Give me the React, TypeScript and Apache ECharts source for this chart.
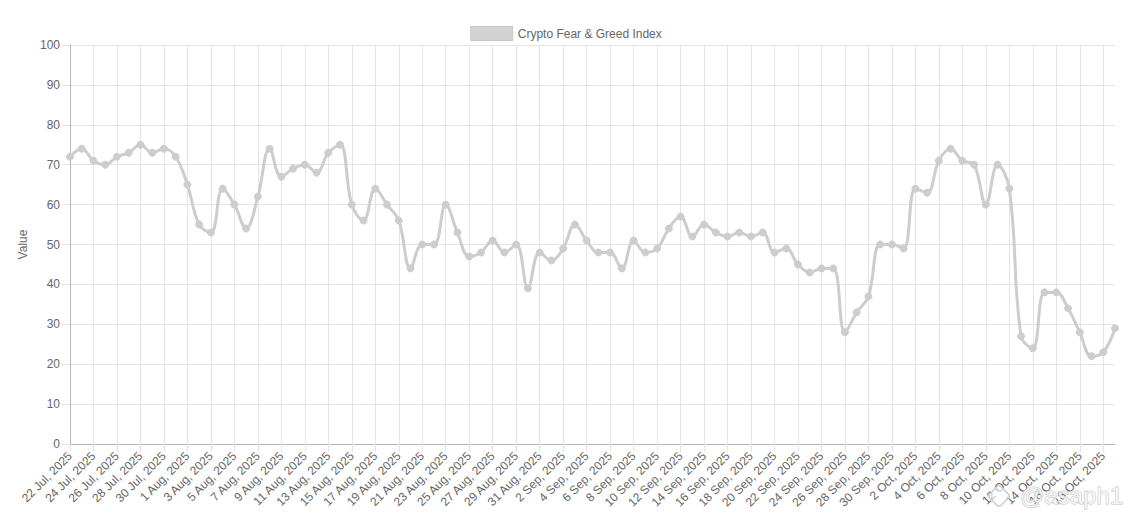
import React, { useEffect, useRef } from "react";
import * as echarts from "echarts";

const START_DATE = "2025-07-22";
const DAY_COUNT = 90;
const MONTHS = ["Jan", "Feb", "Mar", "Apr", "May", "Jun", "Jul", "Aug", "Sep", "Oct", "Nov", "Dec"];

function buildDates(start: string, n: number): string[] {
  const out: string[] = [];
  const d0 = new Date(start + "T00:00:00Z");
  for (let i = 0; i < n; i++) {
    const d = new Date(d0.getTime() + i * 86400000);
    out.push(`${d.getUTCDate()} ${MONTHS[d.getUTCMonth()]}, ${d.getUTCFullYear()}`);
  }
  return out;
}

const categories = buildDates(START_DATE, DAY_COUNT);

const fearGreedValues = [
  72, 74, 71, 70, 72, 73, 75, 73, 74, 72,
  65, 55, 53, 64, 60, 54, 62, 74, 67, 69,
  70, 68, 73, 75, 60, 56, 64, 60, 56, 44,
  50, 50, 60, 53, 47, 48, 51, 48, 50, 39,
  48, 46, 49, 55, 51, 48, 48, 44, 51, 48,
  49, 54, 57, 52, 55, 53, 52, 53, 52, 53,
  48, 49, 45, 43, 44, 44, 28, 33, 37, 50,
  50, 49, 64, 63, 71, 74, 71, 70, 60, 70,
  64, 27, 24, 38, 38, 34, 28, 22, 23, 29,
];

const seriesName = "Crypto Fear & Greed Index";
const yAxisName = "Value";
const watermarkText = "@asaph1";

const FONT = "'Liberation Sans', Arial, Helvetica, sans-serif";
const GRID_COLOR = "#e4e4e4";
const TEXT_COLOR = "#666666";

export default function App() {
  const ref = useRef<HTMLDivElement>(null);

  useEffect(() => {
    if (!ref.current) return;
    const chart = echarts.init(ref.current, null, { renderer: "svg" });
    chart.setOption({
      animation: false,
      backgroundColor: "#ffffff",
      textStyle: { fontFamily: FONT },
      legend: {
        top: 21,
        left: "center",
        itemWidth: 42,
        itemHeight: 14,
        itemGap: 8,
        icon: "rect",
        textStyle: { color: TEXT_COLOR, fontSize: 12, fontFamily: FONT },
        itemStyle: { color: "#d3d3d3", borderColor: "#c8c8c8", borderWidth: 1 },
        data: [seriesName],
      },
      grid: { left: 70, right: 17, top: 45, bottom: 82, containLabel: false },
      xAxis: {
        type: "category",
        data: categories,
        boundaryGap: false,
        axisLine: { show: true, lineStyle: { color: "#b5b5b5", width: 1 } },
        axisTick: { show: true, length: 8, interval: 1, lineStyle: { color: GRID_COLOR } },
        splitLine: { show: true, interval: 1, lineStyle: { color: GRID_COLOR, width: 1 } },
        axisLabel: {
          interval: 1,
          rotate: 45,
          margin: 10,
          color: TEXT_COLOR,
          fontSize: 12,
          fontFamily: FONT,
        },
      },
      yAxis: {
        type: "value",
        min: 0,
        max: 100,
        interval: 10,
        name: yAxisName,
        nameLocation: "middle",
        nameGap: 39,
        nameRotate: 90,
        nameTextStyle: { color: TEXT_COLOR, fontSize: 12, fontFamily: FONT },
        axisLine: { show: true, lineStyle: { color: "#b5b5b5", width: 1 } },
        axisTick: { show: true, length: 8, lineStyle: { color: GRID_COLOR } },
        splitLine: { show: true, lineStyle: { color: GRID_COLOR, width: 1 } },
        axisLabel: { margin: 10, color: TEXT_COLOR, fontSize: 12, fontFamily: FONT },
      },
      series: [
        {
          name: seriesName,
          type: "line",
          data: fearGreedValues,
          smooth: 0.4,
          symbol: "circle",
          symbolSize: 7,
          showSymbol: true,
          lineStyle: { color: "#cdcdcd", width: 3 },
          itemStyle: { color: "#cdcdcd", borderColor: "#cdcdcd" },
        },
      ],
      graphic: [
        {
          type: "rect",
          x: 999,
          y: 496,
          rotation: Math.PI / 4,
          shape: { x: -8, y: -8, width: 16, height: 16, r: 3 },
          style: { fill: "rgba(255,255,255,0.6)", stroke: "#cfcfcf", lineWidth: 1.5 },
          z: 100,
        },
        {
          type: "text",
          x: 1020,
          y: 483,
          style: {
            text: watermarkText,
            fontSize: 24,
            fontFamily: FONT,
            fill: "rgba(255,255,255,0.7)",
            stroke: "#c4c4c4",
            lineWidth: 1,
          },
          z: 100,
        },
      ],
    });
    return () => chart.dispose();
  }, []);

  return (
    <div
      ref={ref}
      style={{ position: "fixed", left: 0, top: 0, width: 1132, height: 526 }}
    />
  );
}
